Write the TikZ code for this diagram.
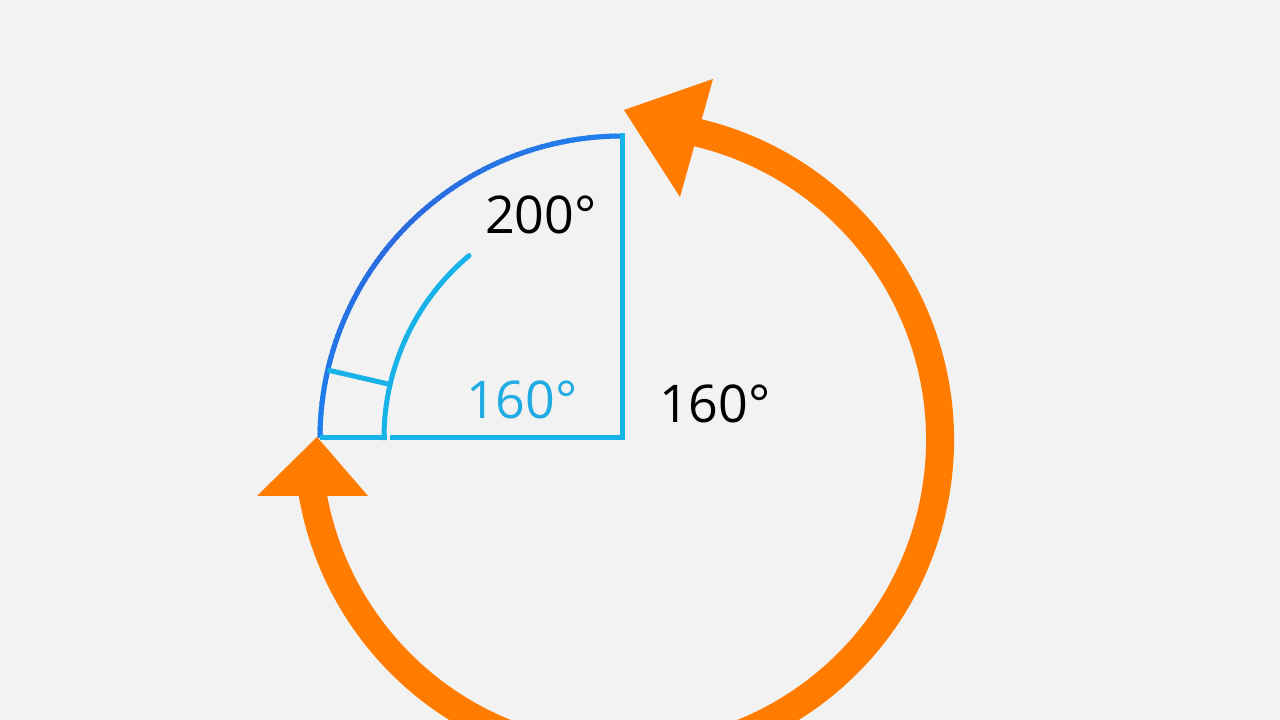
\documentclass[tikz,border=0pt]{standalone}
\usepackage{fontspec}
\newfontfamily\lblfont{Open Sans}
\definecolor{bgc}{RGB}{242,242,242}
\definecolor{orng}{RGB}{255,124,0}
\definecolor{cyanl}{RGB}{22,178,232}
\definecolor{cyant}{RGB}{32,172,226}
\definecolor{bluea}{RGB}{28,126,236}
\definecolor{blueb}{RGB}{44,106,222}
\definecolor{bluec}{RGB}{32,128,236}
\tikzset{
  lbl/.style={font=\lblfont\fontsize{52}{60}\selectfont, inner sep=0pt, anchor=base west},
  sidel/.style={line width=5pt, draw=cyanl},
  ring/.style={line width=28pt, draw=orng},
  head/.style={fill=orng, draw=none}
}
\begin{document}
\begin{tikzpicture}[x=1pt,y=1pt]
\useasboundingbox (0,0) rectangle (1280,720);
\fill[bgc] (0,0) rectangle (1280,720);
\coordinate (O) at (622,282);
\coordinate (C) at (624,280);
% orange double-headed ring
\draw[ring] (C) ++(78:316) arc[start angle=78, end angle=-171, radius=316];
\fill[head] (624,610) -- (713,641) -- (680,523) -- cycle;
\fill[head] (317,283) -- (257,224) -- (368,224) -- cycle;
% blue outer arc with gradient
\foreach \a in {135,...,179}{
  \pgfmathtruncatemacro{\p}{(\a-135)/45*100}
  \pgfmathsetmacro{\e}{min(\a+1.6,180)}
  \draw[line width=5pt, draw={bluea!\p!blueb}] (O) ++(\a:302) arc[start angle=\a, end angle=\e, radius=302];
}
\foreach \a in {90,...,134}{
  \pgfmathtruncatemacro{\p}{(\a-90)/45*100}
  \pgfmathsetmacro{\e}{\a+1.6}
  \draw[line width=5pt, draw={blueb!\p!bluec}] (O) ++(\a:302) arc[start angle=\a, end angle=\e, radius=302];
}
% sides of the sector
\draw[sidel] (622,586.5) -- (O) -- (390,282);
\draw[sidel] (386.5,282) -- (319.5,282);
% inner arc
\draw[sidel, line cap=round] (O) ++(180:238) arc[start angle=180, end angle=130, radius=238];
% radial tick
\draw[sidel] (O) ++(167:238) -- ++(167:64);
% labels
\node[lbl, text=black] (l200) at (485,486) {200°};
\node[lbl, text=cyant] (l160c) at (466,301) {160°};
\node[lbl, text=black] (l160k) at (659,297) {160°};
\end{tikzpicture}
\end{document}
